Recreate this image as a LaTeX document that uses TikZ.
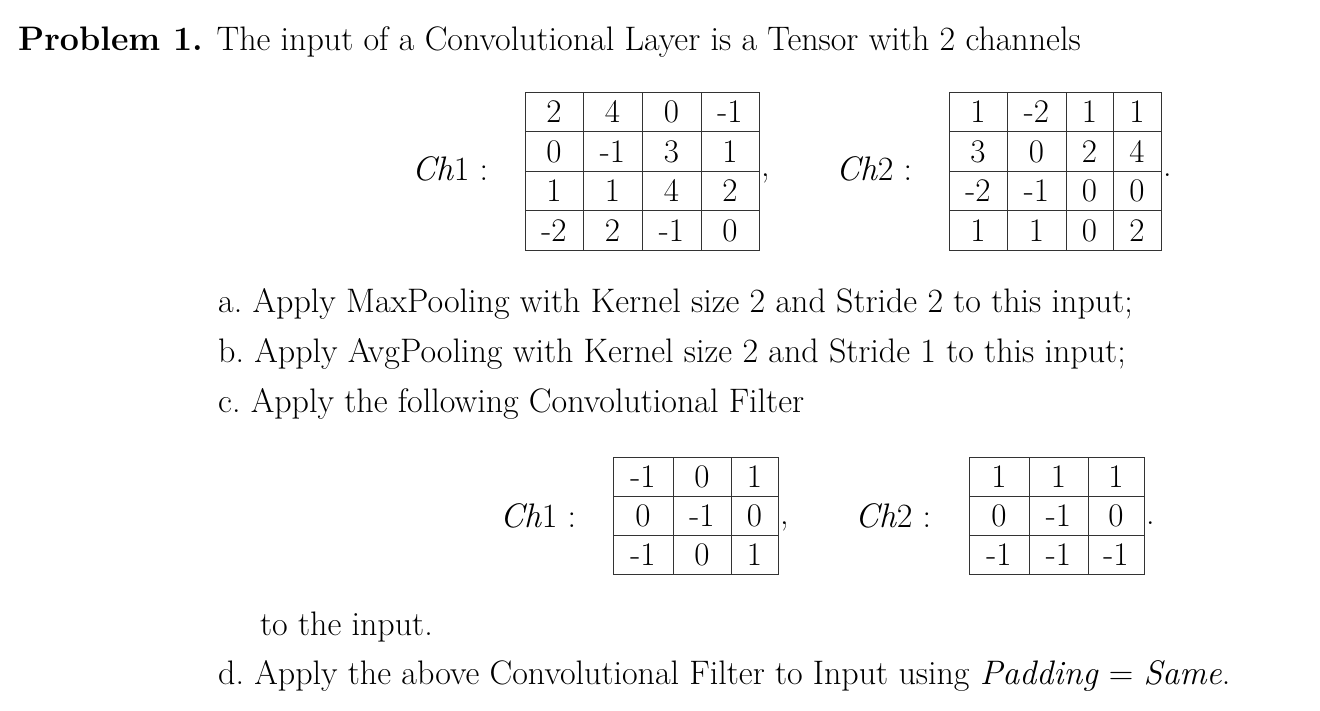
\documentclass[tikz,border=0pt]{standalone}
\begin{document}
\begin{tikzpicture}[x=1pt,y=-1pt,
  txt/.style={anchor=base west,inner sep=0pt,font=\fontsize{34}{40}\selectfont},
  cell/.style={draw=black!80,line width=1pt,inner sep=0pt,text height=22pt,text depth=0pt,font=\fontsize{33}{38}\selectfont}]
\useasboundingbox (0,0) rectangle (1320,710);
\node[txt] (title) at (18,50) {\textbf{Problem 1.} The input of a Convolutional Layer is a Tensor with 2 channels};
% matrix 1
\def\xa{{525,583,642,701,759}}
\def\ya{{92,131,171,210,250}}
\foreach \row [count=\r from 0] in {{2,4,0,-1},{0,-1,3,1},{1,1,4,2},{-2,2,-1,0}}{
  \foreach \v [count=\c from 0] in \row {
    \pgfmathsetmacro{\xl}{\xa[\c]}\pgfmathsetmacro{\xr}{\xa[\c+1]}
    \pgfmathsetmacro{\yt}{\ya[\r]}\pgfmathsetmacro{\yb}{\ya[\r+1]}
    \node[cell,minimum width=\xr-\xl,minimum height=\yb-\yt] (a-\r-\c) at ({(\xl+\xr)/2},{(\yt+\yb)/2}) {\v};
  }}
\node[txt] (ch1a) at (412,180) {\textit{Ch}1 :};
\node[txt] (cma) at (761,176) {,};
% matrix 2
\def\xb{{949,1007,1066,1113,1161}}
\foreach \row [count=\r from 0] in {{1,-2,1,1},{3,0,2,4},{-2,-1,0,0},{1,1,0,2}}{
  \foreach \v [count=\c from 0] in \row {
    \pgfmathsetmacro{\xl}{\xb[\c]}\pgfmathsetmacro{\xr}{\xb[\c+1]}
    \pgfmathsetmacro{\yt}{\ya[\r]}\pgfmathsetmacro{\yb}{\ya[\r+1]}
    \node[cell,minimum width=\xr-\xl,minimum height=\yb-\yt] (b-\r-\c) at ({(\xl+\xr)/2},{(\yt+\yb)/2}) {\v};
  }}
\node[txt] (ch2a) at (836,180) {\textit{Ch}2 :};
\node[txt] (pda) at (1163,176) {.};
% items
\node[txt] (ia) at (218,312) {a.\ Apply MaxPooling with Kernel size 2 and Stride 2 to this input;};
\node[txt] (ib) at (218,362) {b.\ Apply AvgPooling with Kernel size 2 and Stride 1 to this input;};
\node[txt] (ic) at (218,412) {c.\ Apply the following Convolutional Filter};
% matrix 3
\def\xc{{613,673,731,778}}
\def\yc{{457,496,535,574}}
\foreach \row [count=\r from 0] in {{-1,0,1},{0,-1,0},{-1,0,1}}{
  \foreach \v [count=\c from 0] in \row {
    \pgfmathsetmacro{\xl}{\xc[\c]}\pgfmathsetmacro{\xr}{\xc[\c+1]}
    \pgfmathsetmacro{\yt}{\yc[\r]}\pgfmathsetmacro{\yb}{\yc[\r+1]}
    \node[cell,minimum width=\xr-\xl,minimum height=\yb-\yt] (c-\r-\c) at ({(\xl+\xr)/2},{(\yt+\yb)/2}) {\v};
  }}
\node[txt] (ch1c) at (500,527) {\textit{Ch}1 :};
\node[txt] (cmc) at (780,524) {,};
% matrix 4
\def\xd{{969,1029,1088,1144}}
\foreach \row [count=\r from 0] in {{1,1,1},{0,-1,0},{-1,-1,-1}}{
  \foreach \v [count=\c from 0] in \row {
    \pgfmathsetmacro{\xl}{\xd[\c]}\pgfmathsetmacro{\xr}{\xd[\c+1]}
    \pgfmathsetmacro{\yt}{\yc[\r]}\pgfmathsetmacro{\yb}{\yc[\r+1]}
    \node[cell,minimum width=\xr-\xl,minimum height=\yb-\yt] (d-\r-\c) at ({(\xl+\xr)/2},{(\yt+\yb)/2}) {\v};
  }}
\node[txt] (ch2c) at (855,527) {\textit{Ch}2 :};
\node[txt] (pdc) at (1146,524) {.};
\node[txt] (to) at (260,635) {to the input.};
\node[txt] (id) at (218,684) {d.\ Apply the above Convolutional Filter to Input using \textit{Padding} = \textit{Same}.};
\end{tikzpicture}
\end{document}
